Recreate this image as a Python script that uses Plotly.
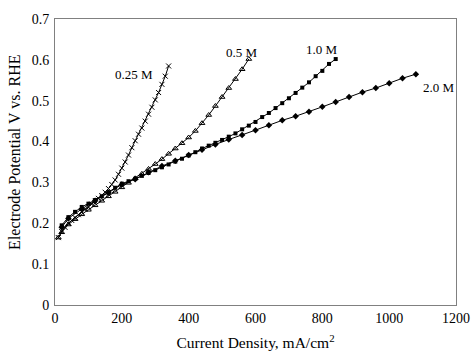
import plotly.graph_objects as go

x_025 = [10, 20, 30, 40, 50, 60, 70, 80, 90, 100, 110, 120, 130, 140, 150, 160, 170,
         180, 190, 200, 210, 220, 230, 240, 250, 260, 270, 280, 290, 300, 310, 320, 330, 340]
y_025 = [0.165, 0.18, 0.19, 0.2, 0.207, 0.214, 0.221, 0.228, 0.234, 0.24, 0.247, 0.254,
         0.261, 0.268, 0.276, 0.285, 0.295, 0.306, 0.32, 0.335, 0.35, 0.367, 0.385, 0.402,
         0.418, 0.433, 0.45, 0.467, 0.484, 0.502, 0.52, 0.54, 0.56, 0.585]

x_05 = [10, 20, 40, 60, 80, 100, 120, 140, 160, 180, 200, 220, 240, 260, 280, 300, 320,
        340, 360, 380, 400, 420, 440, 460, 480, 500, 520, 540, 560, 580]
y_05 = [0.165, 0.178, 0.197, 0.21, 0.222, 0.233, 0.244, 0.255, 0.266, 0.277, 0.288, 0.299,
        0.31, 0.321, 0.333, 0.345, 0.357, 0.37, 0.383, 0.396, 0.41, 0.426, 0.445, 0.465,
        0.487, 0.509, 0.531, 0.553, 0.577, 0.602]

x_10 = [20, 40, 60, 80, 100, 120, 140, 160, 180, 200, 220, 240, 260, 280, 300, 320, 340,
        360, 380, 400, 420, 440, 460, 480, 500, 520, 540, 560, 580, 600, 620, 640, 660,
        680, 700, 720, 740, 760, 780, 800, 820, 840]
y_10 = [0.195, 0.215, 0.228, 0.24, 0.248, 0.257, 0.266, 0.276, 0.287, 0.297, 0.303, 0.309,
        0.316, 0.323, 0.33, 0.337, 0.344, 0.351, 0.358, 0.366, 0.374, 0.383, 0.39, 0.397,
        0.404, 0.412, 0.42, 0.43, 0.439, 0.448, 0.46, 0.47, 0.482, 0.494, 0.506, 0.519,
        0.532, 0.545, 0.56, 0.573, 0.59, 0.602]

x_20 = [20, 40, 80, 120, 160, 200, 240, 280, 320, 360, 400, 440, 480, 520, 560, 600, 640,
        680, 720, 760, 800, 840, 880, 920, 960, 1000, 1040, 1080]
y_20 = [0.19, 0.212, 0.235, 0.255, 0.275, 0.295, 0.308, 0.325, 0.34, 0.353, 0.367, 0.38,
        0.393, 0.405, 0.416, 0.428, 0.44, 0.452, 0.462, 0.473, 0.485, 0.497, 0.509, 0.521,
        0.531, 0.543, 0.555, 0.565]

labels = ["0.25 M", "0.5 M", "1.0 M", "2.0 M"]
label_x = [236, 560, 800, 1150]
label_y = [0.565, 0.619, 0.626, 0.533]

x_ticks = [0, 200, 400, 600, 800, 1000, 1200]
y_ticks = [0, 0.1, 0.2, 0.3, 0.4, 0.5, 0.6, 0.7]
y_tick_text = ["0", "0.1", "0.2", "0.3", "0.4", "0.5", "0.6", "0.7"]

x_title = "Current Density, mA/cm<sup>2</sup>"
y_title = "Electrode Potential V vs. RHE"

FONT = "Liberation Serif, Times New Roman, serif"

fig = go.Figure()
series = [
    (x_025, y_025, dict(symbol="x-thin-open", size=5, color="black", line=dict(width=1, color="black"))),
    (x_05, y_05, dict(symbol="triangle-up-open", size=5, color="black", line=dict(width=1, color="black"))),
    (x_10, y_10, dict(symbol="square", size=4, color="black")),
    (x_20, y_20, dict(symbol="diamond", size=5, color="black")),
]
for (xs, ys, mk), name in zip(series, labels):
    fig.add_trace(go.Scatter(x=xs, y=ys, mode="lines+markers", name=name,
                             line=dict(color="black", width=1), marker=mk,
                             showlegend=False))

for t, xx, yy in zip(labels, label_x, label_y):
    fig.add_annotation(x=xx, y=yy, text=t, showarrow=False,
                       font=dict(family=FONT, size=13, color="black"))

# y-axis title placed as rotated annotation (slightly above plot centre, as in the reference)
fig.add_annotation(xref="paper", yref="paper", x=-0.1, y=0.535, text=y_title,
                   textangle=-90, showarrow=False, xanchor="center", yanchor="middle",
                   font=dict(family=FONT, size=16, color="black"))

fig.update_layout(
    width=474, height=359,
    margin=dict(l=55, r=18, t=19, b=54, autoexpand=False),
    paper_bgcolor="white", plot_bgcolor="white",
    font=dict(family=FONT, size=14, color="black"),
    xaxis=dict(range=[0, 1200], tickvals=x_ticks, ticks="", showgrid=False, zeroline=False,
               showline=True, linecolor="#808080", linewidth=1, mirror=True, automargin=False,
               title=dict(text=x_title, font=dict(size=15.5), standoff=12),
               tickfont=dict(size=14)),
    yaxis=dict(range=[0, 0.7], tickvals=y_ticks, ticktext=y_tick_text,
               ticks="", showgrid=False, zeroline=False, automargin=False,
               showline=True, linecolor="#808080", linewidth=1, mirror=True,
               ticklabelstandoff=2, tickfont=dict(size=14)),
    yaxis2=dict(range=[0, 0.7], tickvals=y_ticks, overlaying="y", side="right", ticks="inside",
                ticklen=4, tickcolor="#808080", showticklabels=False, showgrid=False,
                zeroline=False, showline=False),
)

fig.write_html("out.html", config={"displayModeBar": False},
               post_script="document.body.style.margin='0';document.body.style.overflow='hidden';")
